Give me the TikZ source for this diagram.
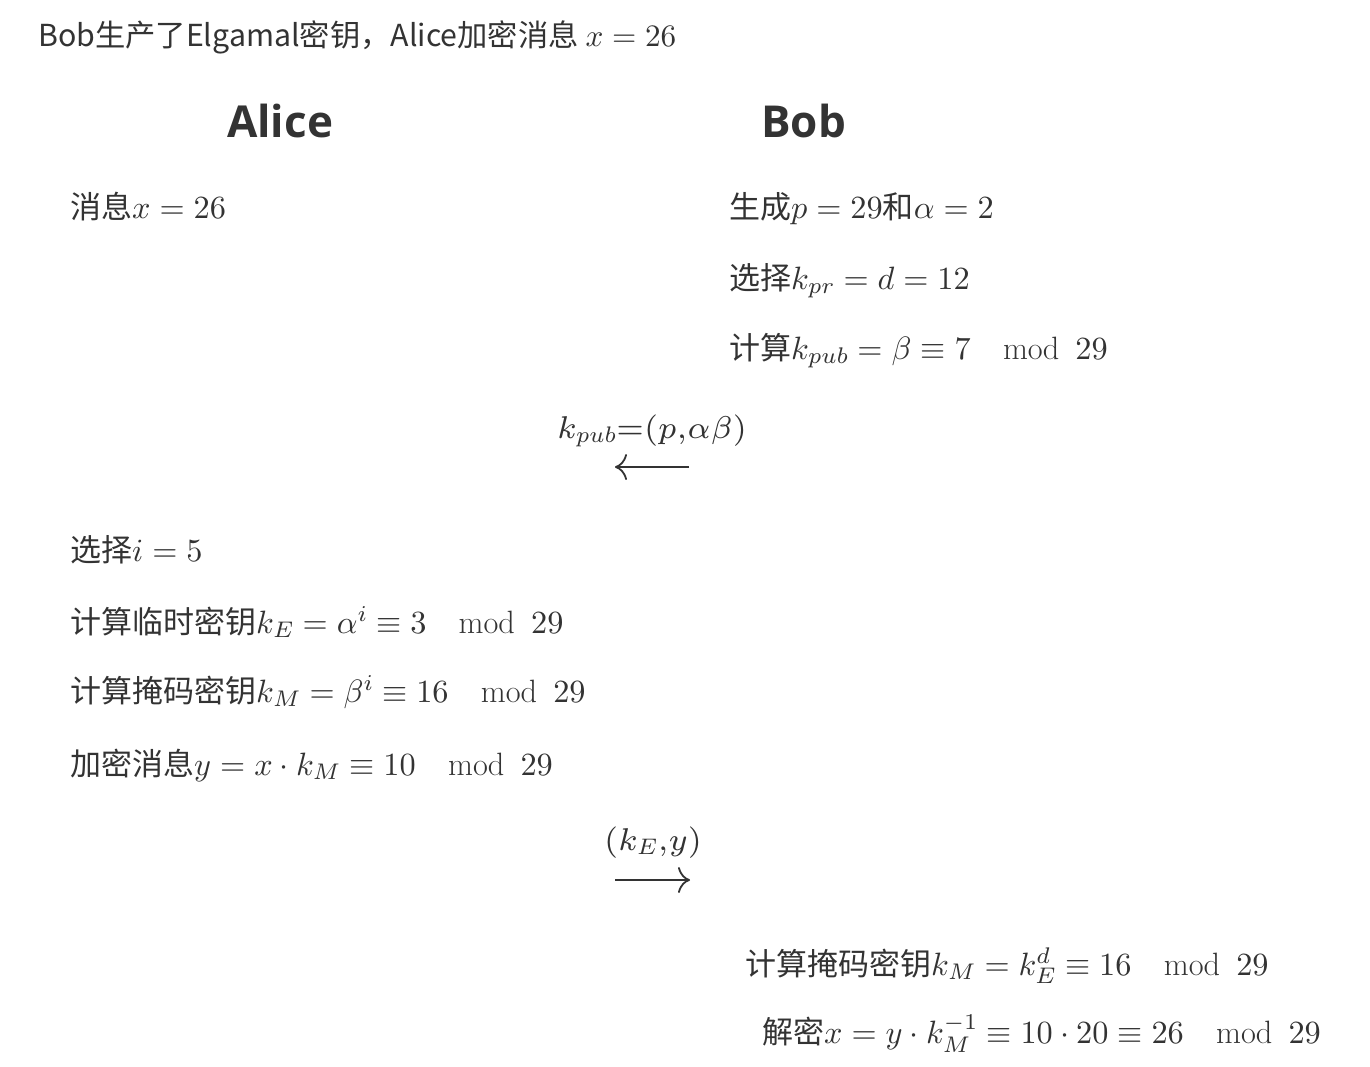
\documentclass[tikz,border=0pt]{standalone}
\usepackage{amsmath}
\usepackage{fontspec}
\DeclareFontShape{OT1}{cmr}{m}{n}{<-18>cmr5<18-27>cmr7<27-31.4>cmr10<31.4-31.6>cmr7<31.6->cmr10}{}
\DeclareFontShape{OML}{cmm}{m}{it}{<-18>cmmi5<18-27>cmmi7<27-31.4>cmmi10<31.4-31.6>cmmi7<31.6->cmmi10}{}
\DeclareFontShape{OMS}{cmsy}{m}{n}{<-18>cmsy5<18-27>cmsy7<27-31.4>cmsy10<31.4-31.6>cmsy7<31.6->cmsy10}{}
\DeclareFontShape{OMX}{cmex}{m}{n}{<->cmex10}{}
\newfontfamily\cjk{Noto Sans CJK SC}
\newfontfamily\hdfont{Open Sans}
\usetikzlibrary{arrows.meta}
\definecolor{ink}{HTML}{333333}
\newcommand{\cj}[1]{{\fontsize{31}{36}\selectfont\cjk #1}}
\newcommand{\modn}[1]{\mkern18mu\mathrm{mod}\mkern9mu #1}
\tikzset{
  line/.style={anchor=base west, inner sep=0pt, text=ink, font=\fontsize{32.3}{38}\selectfont},
  header/.style={anchor=base west, inner sep=0pt, text=ink, font=\fontsize{44}{50}\selectfont\hdfont\bfseries},
  msglabel/.style={anchor=base, inner sep=0pt, text=ink, font=\fontsize{45}{54}\selectfont},
  msgarrow/.style={draw=ink, line width=1.8pt, -{Computer Modern Rightarrow[length=12pt,width=26pt]}}
}
\begin{document}
\begin{tikzpicture}[x=1pt,y=-1pt]
\useasboundingbox[fill=white] (0,0) rectangle (1370,1066);
% title
\node[anchor=base west, inner sep=0pt, text=ink] (title) at (38,46)
  {{\fontsize{30.3}{36}\selectfont\cjk Bob生产了Elgamal密钥，Alice加密消息 }{\fontsize{31.2}{36}\selectfont$x=26$}};
% headers
\node[header] (alice) at (227,137) {Alice};
\node[header] (bob) at (761,137) {Bob};
% Alice initial
\node[line] (a1) at (70,218) {\cj{消息}$x=26$};
% Bob key generation
\node[line] (b1) at (729,218) {\cj{生成}$p=29$\cj{和}$\alpha=2$};
\node[line] (b2) at (729,289) {\cj{选择}$k_{pr}=d=12$};
\node[line] (b3) at (729,359) {\cj{计算}$k_{pub}=\beta\equiv 7\modn{29}$};
% public key transfer
\node[msglabel] (m1) at (652,438) {$\scriptstyle k_{pub}=(p,\alpha\beta)$};
\coordinate (m1s) at (689,467);
\coordinate (m1e) at (615,467);
\draw[msgarrow] (m1s) -- (m1e);
% Alice encryption
\node[line] (a2) at (70,561) {\cj{选择}$i=5$};
\node[line] (a3) at (70,633) {\cj{计算临时密钥}$k_E=\alpha^i\equiv 3\modn{29}$};
\node[line] (a4) at (70,702) {\cj{计算掩码密钥}$k_M=\beta^i\equiv 16\modn{29}$};
\node[line] (a5) at (70,775) {\cj{加密消息}$y=x\cdot k_M\equiv 10\modn{29}$};
% ciphertext transfer
\node[msglabel] (m2) at (653,850) {$\scriptstyle (k_E,y)$};
\coordinate (m2s) at (615,880);
\coordinate (m2e) at (690,880);
\draw[msgarrow] (m2s) -- (m2e);
% Bob decryption
\node[line] (b4) at (745,975) {\cj{计算掩码密钥}$k_M=k_E^d\equiv 16\modn{29}$};
\node[line] (b5) at (762,1043) {\cj{解密}$x=y\cdot k_M^{-1}\equiv 10\cdot 20\equiv 26\modn{29}$};
\end{tikzpicture}
\end{document}
